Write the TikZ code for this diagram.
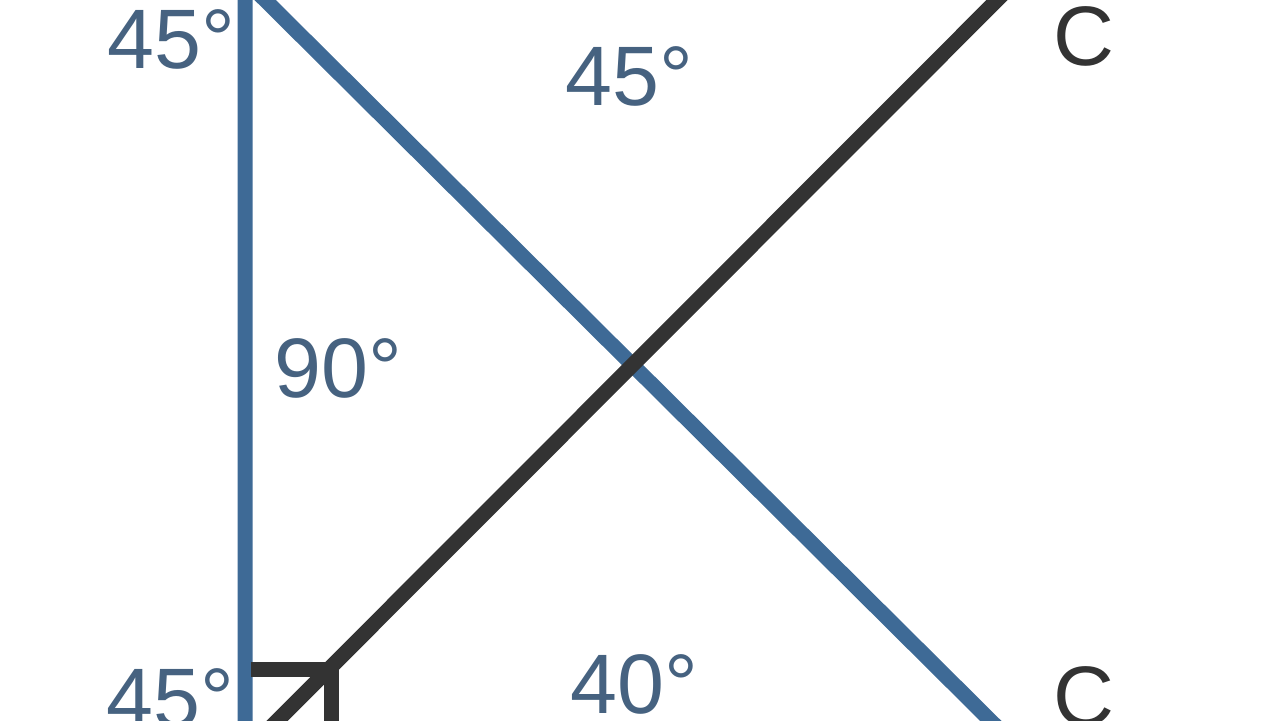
\documentclass[tikz,border=0pt]{standalone}
\usepackage{fontspec}
\setmainfont{Liberation Sans}
\definecolor{lineblue}{RGB}{62,106,150}
\definecolor{textblue}{RGB}{70,98,128}
\definecolor{darkline}{RGB}{51,51,51}
\begin{document}
\begin{tikzpicture}[x=0.01cm, y=-0.01cm, line width=0.15cm,
    lbl/.style={anchor=base, inner sep=0pt, font=\fontsize{24}{24}\selectfont, textblue}]
        \useasboundingbox (0,0) rectangle (1280,720);
        \clip (0,0) rectangle (1280,720);
        \coordinate (top) at (245,-20); \coordinate (bot) at (245,740);
        \coordinate (br) at (1010,740); \coordinate (tr) at (1017,-20);
        \coordinate (bl) at (258,740); \coordinate (sq) at (331,669);
        \draw[lineblue] (bot)--(top)--(br); % blue triangle
        \draw[darkline] (bl)--(tr); % crossing line
        \draw[darkline] (251,669)--(sq)--(331,740); % right angle
        \node[lbl] (a1) at (171,68) {45°};
        \node[lbl] (a2) at (629,105) {45°};
        \node[lbl] (a3) at (338,397) {90°};
        \node[lbl] (a4) at (170,727) {45°};
        \node[lbl] (a5) at (634,713) {40°};
        \foreach \p/\y in {c1/65, c2/725} \node[lbl, darkline] (\p) at (1084,\y) {C};
    \end{tikzpicture}
\end{document}
